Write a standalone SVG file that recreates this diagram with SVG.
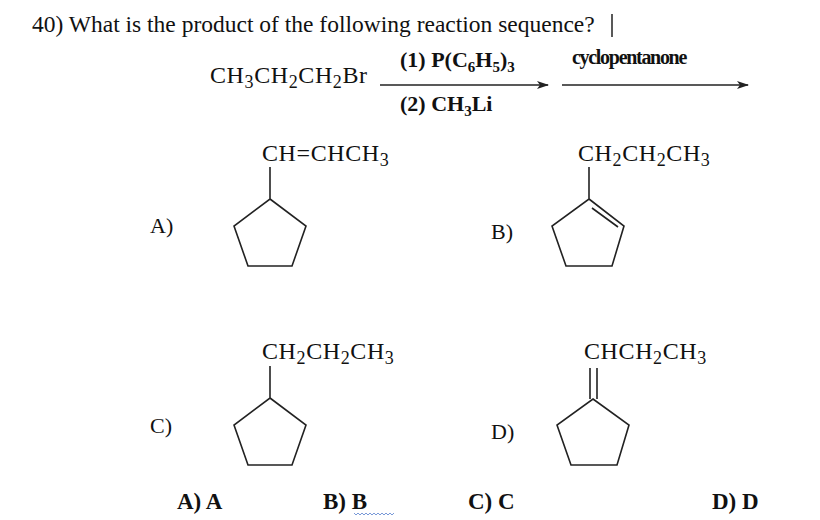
<svg xmlns="http://www.w3.org/2000/svg" width="820" height="520" viewBox="0 0 820 520">
<defs><marker id="ah" markerWidth="12" markerHeight="8" refX="11" refY="4" orient="auto" markerUnits="userSpaceOnUse"><path d="M0,0 L12,4 L0,8 L3,4 z" fill="#222"/></marker></defs>
<style>
text{font-family:"Liberation Serif","Times New Roman",serif;fill:#111}
.t{font-size:23.5px}.m{font-size:22px}.s{font-size:15px}
.g{font-size:24px;letter-spacing:0.6px}.gs{font-size:18px}
.b{font-weight:bold;font-size:23px}
.ln{stroke:#222;stroke-width:1.6;fill:none}
</style>
<rect width="820" height="520" fill="#fff"/>
<text class="t" x="32" y="32">40) What is the product of the following reaction sequence?</text>
<line x1="612" y1="14" x2="612" y2="37" stroke="#222" stroke-width="1.5"/>
<g id="reactant"><text class="g" x="210" y="83">CH<tspan class="gs" dy="5">3</tspan><tspan dy="-5">CH</tspan><tspan class="gs" dy="5">2</tspan><tspan dy="-5">CH</tspan><tspan class="gs" dy="5">2</tspan><tspan dy="-5">Br</tspan></text></g>
<g id="connectors">
<line class="ln" x1="380" y1="85" x2="548" y2="85" marker-end="url(#ah)"/>
<line class="ln" x1="562" y1="85" x2="748" y2="85" marker-end="url(#ah)"/>
</g>
<text class="m" x="400" y="67" style="font-weight:bold">(1) P(C<tspan class="s" dy="5">6</tspan><tspan dy="-5">H</tspan><tspan class="s" dy="5">5</tspan><tspan dy="-5">)</tspan><tspan class="s" dy="5">3</tspan></text>
<text class="m" x="400" y="111" style="font-weight:bold">(2) CH<tspan class="s" dy="5">3</tspan><tspan dy="-5">Li</tspan></text>
<text x="572" y="64" style="font-size:20px;font-weight:bold;letter-spacing:-1.3px">cyclopentanone</text>
<g id="A">
<text class="m" x="150" y="233">A)</text>
<text class="g" x="262" y="161">CH=CHCH<tspan class="gs" dy="5">3</tspan></text>
<path class="ln" d="M270,167 L270,199 M270,199 L306,226 L292,266 L248,266 L234,226 Z"/>
</g>
<g id="B">
<text class="m" x="491" y="239">B)</text>
<text class="g" x="578" y="161">CH<tspan class="gs" dy="5">2</tspan><tspan dy="-5">CH</tspan><tspan class="gs" dy="5">2</tspan><tspan dy="-5">CH</tspan><tspan class="gs" dy="5">3</tspan></text>
<path class="ln" d="M589,167 L589,199 M589,199 L624,226 L612,266 L566,266 L552,226 Z M592,208 L618,227"/>
</g>
<g id="C">
<text class="m" x="150" y="433">C)</text>
<text class="g" x="262" y="359">CH<tspan class="gs" dy="5">2</tspan><tspan dy="-5">CH</tspan><tspan class="gs" dy="5">2</tspan><tspan dy="-5">CH</tspan><tspan class="gs" dy="5">3</tspan></text>
<path class="ln" d="M270,366 L270,398 M270,398 L306,425 L292,465 L248,465 L234,425 Z"/>
</g>
<g id="D">
<text class="m" x="491" y="439">D)</text>
<text class="g" x="584" y="359">CHCH<tspan class="gs" dy="5">2</tspan><tspan dy="-5">CH</tspan><tspan class="gs" dy="5">3</tspan></text>
<path class="ln" d="M590,368 L590,399 M597,368 L597,399 M593,399 L629,425 L617,465 L571,465 L557,425 Z"/>
</g>
<text class="b" x="177" y="509">A) A</text>
<text class="b" x="323" y="509">B) B</text>
<path d="M354,513 l2,2 l2,-2 l2,2 l2,-2 l2,2 l2,-2 l2,2 l2,-2 l2,2 l2,-2 l2,2 l2,-2 l2,2 l2,-2 l2,2 l2,-2 l2,2 l2,-2 l2,2 l2,-2" stroke="#7a9ad8" stroke-width="1" fill="none"/>
<text class="b" x="468" y="509">C) C</text>
<text class="b" x="712" y="509">D) D</text>
</svg>
